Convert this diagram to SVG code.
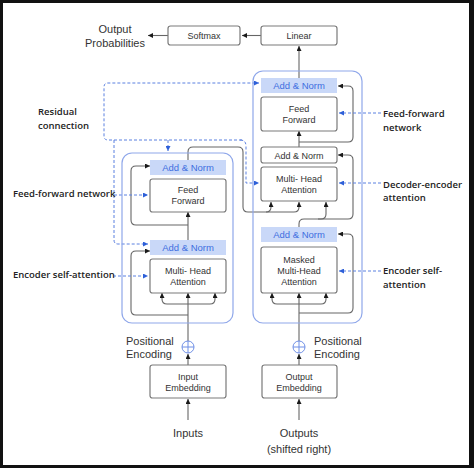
<svg xmlns="http://www.w3.org/2000/svg" width="474" height="468" viewBox="0 0 474 468">
<defs>
<style>
.box{fill:#fff;stroke:#7a7a7a;stroke-width:1.2}
.an{fill:#c9d8f8;stroke:none}
.cont{fill:none;stroke:#8fa7ea;stroke-width:1.2}
.t{font-family:"Liberation Sans",Arial,sans-serif;font-size:9px;fill:#333;text-anchor:middle}
.tb{font-family:"Liberation Sans",Arial,sans-serif;font-size:9.5px;fill:#3d6ee0;text-anchor:middle}
.big{font-family:"Liberation Sans",Arial,sans-serif;font-size:11px;fill:#333}
.lab{font-family:"Open Sans","DejaVu Sans",sans-serif;font-size:9.5px;font-weight:600;fill:#222}
.ln{fill:none;stroke:#666;stroke-width:1.1}
.dl{fill:none;stroke:#5b80e0;stroke-width:1;stroke-dasharray:3 2}
</style>
<marker id="ab" viewBox="0 0 6 6" refX="6" refY="3" markerWidth="5" markerHeight="5" orient="auto" markerUnits="userSpaceOnUse"><path d="M0,0 L6,3 L0,6 z" fill="#1a1a1a"/></marker>
<marker id="bb" viewBox="0 0 6 6" refX="6" refY="3" markerWidth="5" markerHeight="5" orient="auto" markerUnits="userSpaceOnUse"><path d="M0,0 L6,3 L0,6 z" fill="#2d5fd8"/></marker>
</defs>
<rect x="0" y="0" width="474" height="468" fill="#fff"/>
<path d="M0,0 H474 V468 H0 Z M3,3 V465 H469 V3 Z" fill="#111" fill-rule="evenodd"/>

<g id="connectors">
<!-- encoder -->
<path class="ln" d="M188,420 V399" marker-end="url(#ab)"/>
<path class="ln" d="M188,365 V354" marker-end="url(#ab)"/>
<path class="ln" d="M188,341 V293" marker-end="url(#ab)"/>
<path class="ln" d="M188,304 H167 Q162,304 162,299 V293" marker-end="url(#ab)"/>
<path class="ln" d="M188,304 H210 Q215,304 215,299 V293" marker-end="url(#ab)"/>
<path class="ln" d="M188,315 H136 Q131,315 131,310 V256 Q131,251 136,251 H150" marker-end="url(#ab)"/>
<path class="ln" d="M188,240 V212" marker-end="url(#ab)"/>
<path class="ln" d="M188,225 H136 Q131,225 131,220 V171 Q131,166 136,166 H150" marker-end="url(#ab)"/>
<path class="ln" d="M188,160 V152 Q188,147 193,147 H238 Q243,147 243,152 V207 Q243,212 248,212 H266 Q271,212 271,207 V202" marker-end="url(#ab)"/>
<path class="ln" d="M266,212 H294 Q299,212 299,207 V202" marker-end="url(#ab)"/>
<!-- decoder -->
<path class="ln" d="M299,420 V399" marker-end="url(#ab)"/>
<path class="ln" d="M299,365 V354" marker-end="url(#ab)"/>
<path class="ln" d="M299,341 V293" marker-end="url(#ab)"/>
<path class="ln" d="M299,304 H277 Q272,304 272,299 V293" marker-end="url(#ab)"/>
<path class="ln" d="M299,304 H321 Q326,304 326,299 V293" marker-end="url(#ab)"/>
<path class="ln" d="M299,313 H348 Q353,313 353,308 V239 Q353,234 348,234 H338" marker-end="url(#ab)"/>
<path class="ln" d="M299,227 V224 Q299,219 304,219 H348 Q353,219 353,214 V160 Q353,155 348,155 H338" marker-end="url(#ab)"/>
<path class="ln" d="M318,219 H321 Q326,219 326,214 V202" marker-end="url(#ab)"/>
<path class="ln" d="M299,147 V131" marker-end="url(#ab)"/>
<path class="ln" d="M299,142 H348 Q353,142 353,137 V91 Q353,86 348,86 H338" marker-end="url(#ab)"/>
<path class="ln" d="M299,78 V46" marker-end="url(#ab)"/>
<path class="ln" d="M261,35.5 H242" marker-end="url(#ab)"/>
<path class="ln" d="M168,35.5 H148" marker-end="url(#ab)"/>
<!-- dashed -->
<path class="dl" d="M242,140 H108 Q104,140 104,136 V87 Q104,83 108,83 H259" marker-end="url(#bb)"/>
<path class="dl" d="M240,140 Q246,140 246,146 V183 H259" marker-end="url(#bb)"/>
<path class="dl" d="M114,140 V240 Q114,244 118,244 H148" marker-end="url(#bb)"/>
<path class="dl" d="M168,140 V151" marker-end="url(#bb)"/>
<path class="dl" d="M114,195 H148" marker-end="url(#bb)"/>
<path class="dl" d="M113,276 H148" marker-end="url(#bb)"/>
<path class="dl" d="M381,113 H339" marker-end="url(#bb)"/>
<path class="dl" d="M381,183 H339" marker-end="url(#bb)"/>
<path class="dl" d="M381,271 H339" marker-end="url(#bb)"/>
</g>

<g id="encoder">
<rect class="cont" x="122" y="153" width="111" height="170" rx="10"/>
</g>
<g id="decoder">
<rect class="cont" x="253" y="71" width="109" height="252" rx="10"/>
</g>

<g id="enc-addnorm2"><rect class="an" x="150" y="160" width="76" height="15"/><text class="tb" x="188" y="171">Add &amp; Norm</text></g>
<g id="enc-ff"><rect class="box" x="150" y="179" width="76" height="33" rx="2.5"/><text class="t" x="188" y="193">Feed</text><text class="t" x="188" y="204">Forward</text></g>
<g id="enc-addnorm1"><rect class="an" x="150" y="240" width="76" height="15"/><text class="tb" x="188" y="251">Add &amp; Norm</text></g>
<g id="enc-mha"><rect class="box" x="150" y="259" width="76" height="34" rx="2.5"/><text class="t" x="188" y="274">Multi- Head</text><text class="t" x="188" y="285">Attention</text></g>

<g id="dec-addnorm3"><rect class="an" x="261" y="78" width="76" height="15"/><text class="tb" x="299" y="89">Add &amp; Norm</text></g>
<g id="dec-ff"><rect class="box" x="261" y="97" width="76" height="34" rx="2.5"/><text class="t" x="299" y="112">Feed</text><text class="t" x="299" y="123">Forward</text></g>
<g id="dec-addnorm2"><rect class="box" x="261" y="147" width="76" height="16" rx="2.5"/><text class="t" x="299" y="158.5">Add &amp; Norm</text></g>
<g id="dec-mha"><rect class="box" x="261" y="167" width="76" height="34" rx="2.5"/><text class="t" x="299" y="182">Multi- Head</text><text class="t" x="299" y="193">Attention</text></g>
<g id="dec-addnorm1"><rect class="an" x="261" y="227" width="76" height="15"/><text class="tb" x="299" y="238">Add &amp; Norm</text></g>
<g id="dec-mmha"><rect class="box" x="261" y="247" width="76" height="46" rx="2.5"/><text class="t" x="299" y="263">Masked</text><text class="t" x="299" y="274">Multi-Head</text><text class="t" x="299" y="285">Attention</text></g>

<g id="linear"><rect class="box" x="261" y="26" width="76" height="19" rx="2.5"/><text class="t" x="299" y="39">Linear</text></g>
<g id="softmax"><rect class="box" x="168" y="26" width="72" height="19" rx="2.5"/><text class="t" x="204" y="39">Softmax</text></g>
<g id="output-prob"><text class="big" x="115" y="33" text-anchor="middle">Output</text><text class="big" x="115" y="47" text-anchor="middle">Probabilities</text></g>

<g id="input-emb"><rect class="box" x="150" y="365" width="76" height="33" rx="2.5"/><text class="t" x="188" y="380">Input</text><text class="t" x="188" y="391">Embedding</text></g>
<g id="output-emb"><rect class="box" x="262" y="365" width="75" height="33" rx="2.5"/><text class="t" x="299" y="380">Output</text><text class="t" x="299" y="391">Embedding</text></g>

<g id="pe-enc"><circle cx="188" cy="347" r="6" fill="#fff" stroke="#6f8fe6" stroke-width="1"/><path d="M182,347 H194 M188,341 V353" stroke="#6f8fe6" stroke-width="1"/><text class="big" x="126" y="345">Positional</text><text class="big" x="126" y="358">Encoding</text></g>
<g id="pe-dec"><circle cx="299" cy="347" r="6" fill="#fff" stroke="#6f8fe6" stroke-width="1"/><path d="M293,347 H305 M299,341 V353" stroke="#6f8fe6" stroke-width="1"/><text class="big" x="314" y="345">Positional</text><text class="big" x="314" y="358">Encoding</text></g>

<g id="inputs"><text class="big" x="188" y="437" text-anchor="middle">Inputs</text></g>
<g id="outputs"><text class="big" x="299" y="437" text-anchor="middle">Outputs</text><text class="big" x="299" y="453" text-anchor="middle">(shifted right)</text></g>

<g id="labels">
<text class="lab" x="38" y="115">Residual</text><text class="lab" x="38" y="129">connection</text>
<text class="lab" x="13" y="197">Feed-forward network</text>
<text class="lab" x="13" y="278">Encoder self-attention</text>
<text class="lab" x="383" y="117">Feed-forward</text><text class="lab" x="383" y="131">network</text>
<text class="lab" x="383" y="188">Decoder-encoder</text><text class="lab" x="383" y="201">attention</text>
<text class="lab" x="383" y="274">Encoder self-</text><text class="lab" x="383" y="288">attention</text>
</g>
</svg>
